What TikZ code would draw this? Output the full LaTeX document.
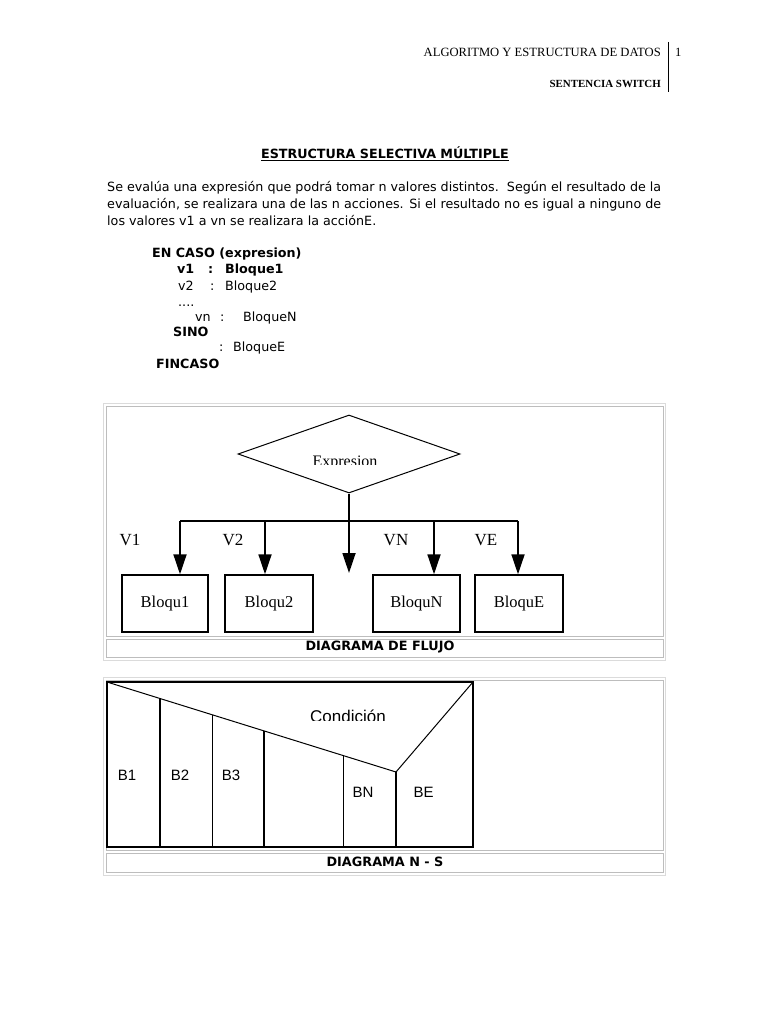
\documentclass[tikz,border=0pt]{standalone}
\usepackage{fontspec}
\setmainfont{DejaVu Sans}
\newfontfamily\romana{Liberation Serif}
\newfontfamily\palo{Liberation Sans}
\usepackage{tikz}
\usetikzlibrary{positioning,shapes.geometric,arrows.meta}

\definecolor{marcoclaro}{gray}{0.86}
\definecolor{marcoosc}{gray}{0.74}

\tikzset{
    texto/.style={font=\fontsize{12.7}{16.7}\selectfont},
    codigo/.style={texto, anchor=base west},
    negrita/.style={font=\bfseries\fontsize{12.7}{12.7}\selectfont},
    caja/.style={draw, line width=1.4pt, minimum height=57pt, font=\romana\fontsize{16.5}{16.5}\selectfont},
    etiq/.style={font=\romana\fontsize{17}{17}\selectfont},
    rombo/.style={draw, diamond, line width=1pt, minimum width=222pt, minimum height=78pt},
    flecha/.style={line width=1.8pt, -{Triangle[width=13pt,length=20pt]}},
    bloque/.style={font=\palo\fontsize{15}{15}\selectfont},
    leyenda/.style={font=\bfseries\fontsize{12.8}{12.8}\selectfont}
}

\begin{document}
\begin{tikzpicture}[x=1pt, y=-1pt, every node/.style={inner sep=0pt}]
    \useasboundingbox[fill=white] (0,0) rectangle (768,1024);

    % cabecera
    \node[font=\romana\fontsize{12.6}{12.6}\selectfont, anchor=base east] (curso) at (661,57) {ALGORITMO Y ESTRUCTURA DE DATOS};
    \node[font=\romana\fontsize{12.6}{12.6}\selectfont, anchor=base west] (pag) at (675,57) {1};
    \node[font=\romana\bfseries\fontsize{10.9}{10.9}\selectfont, anchor=base east] (tema) at (661,88) {SENTENCIA SWITCH};
    \draw (668,42) -- (668,92);

    % enunciado
    \node[negrita] (titulo) at (385,154) {\underline{ESTRUCTURA SELECTIVA MÚLTIPLE}};
    \node[texto, anchor=north west, text width=554pt, align=justify] (parrafo) at (107,181.5) {Se evalúa una expresión que podrá tomar n valores distintos.\ \ Según el resultado de la\linebreak evaluación, se realizara una de las n acciones. Si el resultado no es igual a ninguno de\linebreak los valores v1 a vn se realizara la acciónE.};

    % pseudocodigo
    \node[codigo, negrita] (caso) at (152,257) {EN CASO (expresion)};
    \node[codigo, negrita] (op1) at (177,273) {\makebox[31pt][l]{v1}\makebox[17pt][l]{:}Bloque1};
    \node[codigo] (op2) at (178,290) {\makebox[32pt][l]{v2}\makebox[15pt][l]{:}Bloque2};
    \node[codigo] (puntos) at (178,306) {....};
    \node[codigo] (opn) at (195,321.5) {\makebox[25pt][l]{vn}\makebox[23pt][l]{:}BloqueN};
    \node[codigo, negrita] (sino) at (173,336) {SINO};
    \node[codigo] (ope) at (219,351) {\makebox[14pt][l]{:}BloqueE};
    \node[codigo, negrita] (fin) at (156,368) {FINCASO};

    % diagrama de flujo
    \draw[marcoclaro] (103,403) rectangle (665,660);
    \draw[marcoosc] (106,406) rectangle (663,636);
    \draw[marcoosc] (106,639) rectangle (663,657);
    \node[rombo] (expr) at (349,454) {};
    \begin{scope}
        \clip (300,445) rectangle (400,464);
        \node[font=\romana\fontsize{16}{16}\selectfont, anchor=base] (exprtxt) at (345,466) {Expresion};
    \end{scope}
    \node[caja, minimum width=86pt] (bloq1) at (165,603.5) {Bloqu1};
    \node[caja, minimum width=88pt] (bloq2) at (269,603.5) {Bloqu2};
    \node[caja, minimum width=87pt] (bloqN) at (416.5,603.5) {BloquN};
    \node[caja, minimum width=88pt] (bloqE) at (519,603.5) {BloquE};
    \coordinate (bus1) at (180,521);
    \coordinate (bus2) at (265,521);
    \coordinate (busN) at (434,521);
    \coordinate (busE) at (518,521);
    \coordinate (libre) at (349,573);
    \draw[line width=1.8pt] (bus1) -- (busE);
    \draw[flecha] (expr.south) -- (libre);
    \draw[flecha] (bus1) -- (bus1 |- bloq1.north);
    \draw[flecha] (bus2) -- (bus2 |- bloq2.north);
    \draw[flecha] (busN) -- (busN |- bloqN.north);
    \draw[flecha] (busE) -- (busE |- bloqE.north);
    \node[etiq] (lv1) at (130,540) {V1};
    \node[etiq] (lv2) at (233,540) {V2};
    \node[etiq] (lvN) at (396,540) {VN};
    \node[etiq] (lvE) at (486,540) {VE};
    \node[leyenda] (cap1) at (380,647) {DIAGRAMA DE FLUJO};

    % diagrama N-S
    \draw[marcoclaro] (103,677) rectangle (665,875);
    \draw[marcoosc] (106,680) rectangle (663,850);
    \draw[marcoosc] (106,853) rectangle (663,872);
    \draw[line width=1.3pt] (107,682) rectangle (473,847);
    \draw[line width=1pt] (107,682) -- (396,772) -- (473,682);
    \draw[line width=1.5pt] (160,698.5) -- (160,847);
    \draw[line width=0.8pt] (212,714.7) -- (212,847);
    \draw[line width=1.5pt] (264,730.9) -- (264,847);
    \draw[line width=0.8pt] (343,755.5) -- (343,847);
    \draw[line width=1.5pt] (396,772) -- (396,847);
    \begin{scope}
        \clip (300,700) rectangle (400,720);
        \node[font=\palo\fontsize{17}{17}\selectfont, anchor=base] (cond) at (348,722) {Condición};
    \end{scope}
    \node[bloque] (b1) at (127,775.5) {B1};
    \node[bloque] (b2) at (180,775.5) {B2};
    \node[bloque] (b3) at (231,775.5) {B3};
    \node[bloque] (bn) at (363,792) {BN};
    \node[bloque] (be) at (423.5,792) {BE};
    \node[leyenda] (cap2) at (385,862) {DIAGRAMA N - S};
\end{tikzpicture}
\end{document}
